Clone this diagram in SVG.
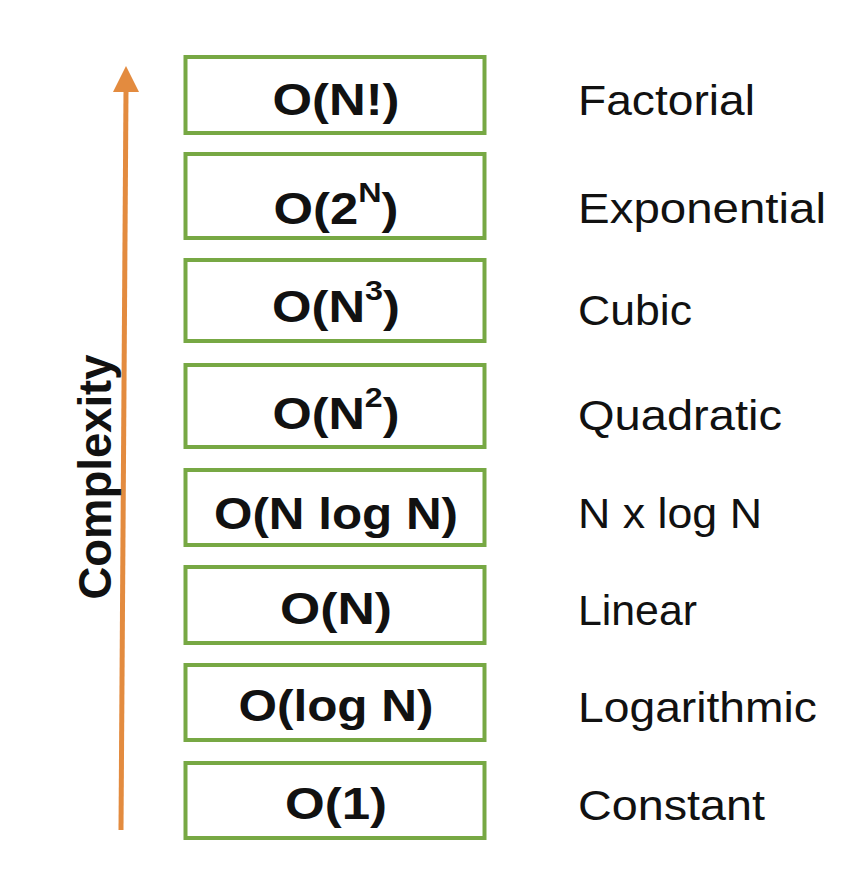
<svg xmlns="http://www.w3.org/2000/svg" width="860" height="887" viewBox="0 0 860 887">
<style>
.box{fill:#fff;stroke:#77A844;stroke-width:4}
.bt{font-family:"Liberation Sans",Arial,sans-serif;font-weight:bold;font-size:44px;fill:#111;text-anchor:middle}
.lt{font-family:"Liberation Sans",Arial,sans-serif;font-size:42px;fill:#111}
.ax{font-family:"Liberation Sans",Arial,sans-serif;font-weight:bold;font-size:46px;fill:#111;text-anchor:middle}
</style>
<rect width="860" height="887" fill="#fff"/>
<g id="connectors">
<line x1="121" y1="830" x2="126" y2="90" stroke="#E38B3F" stroke-width="5"/>
<polygon points="126,66 113,92 139,92" fill="#E38B3F"/>
</g>
<g id="axis-label"><text class="ax" transform="translate(111,477) rotate(-90)" textLength="245" lengthAdjust="spacingAndGlyphs">Complexity</text></g>
<g id="n-factorial"><rect class="box" x="185.5" y="57" width="299" height="76"/><text class="bt" x="336" y="115" textLength="127" lengthAdjust="spacingAndGlyphs">O(N!)</text><text class="lt" x="578" y="115" textLength="177" lengthAdjust="spacingAndGlyphs">Factorial</text></g>
<g id="n-exponential"><rect class="box" x="185.5" y="154" width="299" height="84"/><text class="bt" x="336" y="224" textLength="125" lengthAdjust="spacingAndGlyphs">O(2<tspan font-size="28" dy="-22">N</tspan><tspan dy="22">)</tspan></text><text class="lt" x="578" y="223" textLength="248" lengthAdjust="spacingAndGlyphs">Exponential</text></g>
<g id="n-cubic"><rect class="box" x="185.5" y="260" width="299" height="81"/><text class="bt" x="336" y="322" textLength="128" lengthAdjust="spacingAndGlyphs">O(N<tspan font-size="28" dy="-22">3</tspan><tspan dy="22">)</tspan></text><text class="lt" x="578" y="325" textLength="114" lengthAdjust="spacingAndGlyphs">Cubic</text></g>
<g id="n-quadratic"><rect class="box" x="185.5" y="365" width="299" height="82"/><text class="bt" x="336" y="429" textLength="127" lengthAdjust="spacingAndGlyphs">O(N<tspan font-size="28" dy="-22">2</tspan><tspan dy="22">)</tspan></text><text class="lt" x="578" y="430" textLength="204" lengthAdjust="spacingAndGlyphs">Quadratic</text></g>
<g id="n-nlogn"><rect class="box" x="185.5" y="470" width="299" height="75"/><text class="bt" x="336" y="529" textLength="244" lengthAdjust="spacingAndGlyphs">O(N log N)</text><text class="lt" x="578" y="528" textLength="184" lengthAdjust="spacingAndGlyphs">N x log N</text></g>
<g id="n-linear"><rect class="box" x="185.5" y="567" width="299" height="76"/><text class="bt" x="336" y="624" textLength="112" lengthAdjust="spacingAndGlyphs">O(N)</text><text class="lt" x="578" y="625" textLength="119" lengthAdjust="spacingAndGlyphs">Linear</text></g>
<g id="n-logarithmic"><rect class="box" x="185.5" y="665" width="299" height="75"/><text class="bt" x="336" y="721" textLength="195" lengthAdjust="spacingAndGlyphs">O(log N)</text><text class="lt" x="578" y="722" textLength="239" lengthAdjust="spacingAndGlyphs">Logarithmic</text></g>
<g id="n-constant"><rect class="box" x="185.5" y="763" width="299" height="75"/><text class="bt" x="336" y="819" textLength="102" lengthAdjust="spacingAndGlyphs">O(1)</text><text class="lt" x="578" y="820" textLength="187" lengthAdjust="spacingAndGlyphs">Constant</text></g>
</svg>
